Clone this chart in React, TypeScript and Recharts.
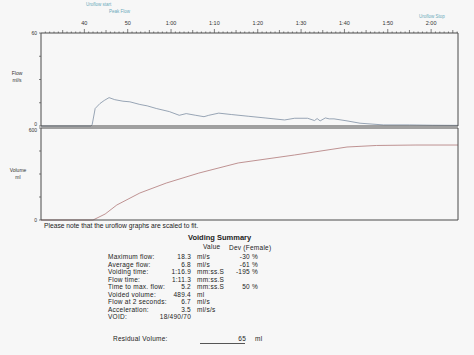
import React from 'react'
import { LineChart, Line, XAxis, YAxis } from 'recharts'

// flow curve (seconds, ml/s)
const flowTimes = [30, 41.5, 41.8, 42.5, 43.6, 44.6, 45.7, 47.0, 48.9, 50.5, 52.8, 54.5, 56.6, 59.6, 61.9, 63.5, 65.7, 67.6, 68.7, 71.0, 73.9, 77.8, 81.7, 86.2, 88.5, 91.5, 93.1, 93.7, 94.4, 95.6, 96.5, 97.6, 100.6, 103.6, 109, 115, 120.4, 126.2]
const flowRates = [0, 0, 0.8, 11.3, 14.5, 16.5, 18.3, 17.0, 16.0, 15.6, 13.9, 13.0, 11.3, 9.3, 6.9, 8.0, 6.9, 6.0, 6.9, 8.3, 7.4, 6.3, 5.2, 3.9, 5.0, 5.0, 3.5, 4.8, 3.3, 5.2, 4.6, 4.6, 3.3, 1.8, 0.7, 0.7, 0.5, 0.4]

// voided volume curve (seconds, ml)
const volumeTimes = [30, 42, 44.8, 47.5, 52.8, 58.9, 66.4, 75.5, 88.5, 100.6, 107.4, 116.5, 126.2]
const volumeValues = [0, 0, 39, 98, 176, 241, 306, 372, 424, 476, 486, 489, 489]

const timeTicks = [40, 50, 60, 70, 80, 90, 100, 110, 120]
const timeTickLabels = ['40', '50', '1:00', '1:10', '1:20', '1:30', '1:40', '1:50', '2:00']
const flowTicks = [0, 15, 30, 45, 60]
const volumeTicks = [0, 150, 300, 450, 600]

const summaryLabels = ['Maximum flow:', 'Average flow:', 'Voiding time:', 'Flow time:', 'Time to max. flow:', 'Voided volume:', 'Flow at 2 seconds:', 'Acceleration:', 'VOID:']
const summaryValues = ['18.3', '6.8', '1:16.9', '1:11.3', '5.2', '489.4', '6.7', '3.5', '18/490/70']
const summaryUnits = ['ml/s', 'ml/s', 'mm:ss.S', 'mm:ss.S', 'mm:ss.S', 'ml', 'ml/s', 'ml/s/s', '']
const summaryDevs = ['-30 %', '-61 %', '-195 %', '', '50 %', '', '', '', '']

const flowData = flowTimes.map((t, i) => ({ t, v: flowRates[i] }))
const volumeData = volumeTimes.map((t, i) => ({ t, v: volumeValues[i] }))

const DOMAIN: [number, number] = [30, 126.2]
const minorTicks: number[] = []
for (let s = 31; s <= 126; s++) minorTicks.push(s)

const FONT = '"Liberation Sans", Arial, sans-serif'
const AXIS = '#4a4a4a'

const TimeTick = (props: any) => {
  const { x, y, payload } = props
  const idx = timeTicks.indexOf(payload.value)
  const major = idx >= 0
  const len = major ? 4 : payload.value % 5 === 0 ? 3 : 1.5
  return (
    <g>
      <line x1={x} x2={x} y1={y} y2={y - len} stroke={AXIS} strokeWidth={0.7} />
      {major && (
        <text x={x} y={y - 8} textAnchor="middle" fontSize={5.5} fill="#333" fontFamily={FONT}>
          {timeTickLabels[idx]}
        </text>
      )}
    </g>
  )
}

const makeYTick = (top: number, bottom: number, topDy: number, bottomDy: number) => (props: any) => {
  const { x, y, payload } = props
  const v = payload.value
  const show = v === top || v === bottom
  const dy = v === top ? topDy : bottomDy
  return (
    <g>
      <line x1={x - 2} x2={x} y1={y} y2={y} stroke={AXIS} strokeWidth={0.7} />
      {show && (
        <text x={x - 4} y={y + 2 + dy} textAnchor="end" fontSize={5} fill="#333" fontFamily={FONT}>
          {v}
        </text>
      )}
    </g>
  )
}

const small: React.CSSProperties = { position: 'absolute', fontSize: 5, color: '#333', lineHeight: '7px', textAlign: 'center' }
const note: React.CSSProperties = { position: 'absolute', fontSize: 4.5, color: '#6aaabb', whiteSpace: 'nowrap', lineHeight: '5px' }
const txt: React.CSSProperties = { position: 'absolute', fontSize: 6.5, letterSpacing: 0.25, color: '#222', whiteSpace: 'nowrap', lineHeight: '7px' }

export default function App() {
  const rowTop = 253
  const rowStep = 7.5
  return (
    <div style={{ position: 'absolute', left: 0, top: 0, width: 474, height: 355, background: '#f7f7f7', fontFamily: FONT, overflow: 'hidden' }}>
      <div style={{ ...note, left: 86, top: 2 }}>Uroflow start</div>
      <div style={{ ...note, left: 109, top: 9 }}>Peak Flow</div>
      <div style={{ ...note, left: 419, top: 14 }}>Uroflow Stop</div>

      <div style={{ ...small, left: 6, top: 70, width: 22 }}>Flow<br />ml/s</div>
      <div style={{ ...small, left: 6, top: 167, width: 24 }}>Volume<br />ml</div>

      <div style={{ position: 'absolute', left: 0, top: 0 }}>
        <LineChart width={474} height={130} data={flowData} margin={{ top: 32, right: 15, bottom: 3, left: 40 }}>
          <XAxis
            dataKey="t"
            type="number"
            orientation="top"
            domain={DOMAIN}
            allowDataOverflow
            ticks={minorTicks}
            interval={0}
            height={1}
            tickSize={0}
            tickMargin={0}
            tickLine={false}
            tick={<TimeTick />}
            axisLine={{ stroke: AXIS, strokeWidth: 1 }}
          />
          <XAxis xAxisId="b" dataKey="t" type="number" domain={DOMAIN} height={1} tick={false} tickLine={false} axisLine={{ stroke: AXIS, strokeWidth: 1.2 }} />
          <YAxis
            type="number"
            domain={[0, 60]}
            ticks={flowTicks}
            interval={0}
            width={1}
            tickSize={0}
            tickMargin={0}
            tickLine={false}
            tick={makeYTick(60, 0, 0, -2)}
            axisLine={{ stroke: AXIS, strokeWidth: 1 }}
          />
          <YAxis yAxisId="r" orientation="right" domain={[0, 1]} width={1} tick={false} tickLine={false} axisLine={{ stroke: AXIS, strokeWidth: 1 }} />
          <Line dataKey="v" stroke="#7f8fa3" strokeWidth={0.8} dot={false} isAnimationActive={false} />
        </LineChart>
      </div>

      <div style={{ position: 'absolute', left: 0, top: 120 }}>
        <LineChart width={474} height={110} data={volumeData} margin={{ top: 7, right: 15, bottom: 9, left: 40 }}>
          <XAxis dataKey="t" type="number" domain={DOMAIN} height={1} tick={false} tickLine={false} axisLine={{ stroke: AXIS, strokeWidth: 1 }} />
          <XAxis xAxisId="top" orientation="top" dataKey="t" type="number" domain={DOMAIN} height={1} tick={false} tickLine={false} axisLine={{ stroke: AXIS, strokeWidth: 1 }} />
          <YAxis
            type="number"
            domain={[0, 600]}
            ticks={volumeTicks}
            interval={0}
            width={1}
            tickSize={0}
            tickMargin={0}
            tickLine={false}
            tick={makeYTick(600, 0, 2, 0)}
            axisLine={{ stroke: AXIS, strokeWidth: 1 }}
          />
          <YAxis yAxisId="r" orientation="right" domain={[0, 1]} width={1} tick={false} tickLine={false} axisLine={{ stroke: AXIS, strokeWidth: 1 }} />
          <Line dataKey="v" stroke="#b07878" strokeWidth={0.8} dot={false} isAnimationActive={false} />
        </LineChart>
      </div>

      <div style={{ position: 'absolute', left: 44, top: 222, fontSize: 6.7, color: '#222', whiteSpace: 'nowrap', lineHeight: '7px' }}>
        Please note that the uroflow graphs are scaled to fit.
      </div>

      <div style={{ position: 'absolute', left: 188, top: 234, fontSize: 7.5, fontWeight: 'bold', color: '#222', whiteSpace: 'nowrap', lineHeight: '8px' }}>Voiding Summary</div>
      <div style={{ ...txt, left: 203, top: 243 }}>Value</div>
      <div style={{ ...txt, left: 229, top: 244 }}>Dev (Female)</div>

      {summaryLabels.map((label, i) => (
        <React.Fragment key={label}>
          <div style={{ ...txt, left: 108, top: rowTop + i * rowStep }}>{label}</div>
          <div style={{ ...txt, right: 474 - 191, top: rowTop + i * rowStep }}>{summaryValues[i]}</div>
          <div style={{ ...txt, left: 197, top: rowTop + i * rowStep }}>{summaryUnits[i]}</div>
          <div style={{ ...txt, right: 474 - 258, top: rowTop + i * rowStep }}>{summaryDevs[i]}</div>
        </React.Fragment>
      ))}

      <div style={{ ...txt, left: 113, top: 335 }}>Residual Volume:</div>
      <div style={{ position: 'absolute', left: 200, top: 343, width: 45, borderTop: '0.7px solid #555' }} />
      <div style={{ ...txt, right: 474 - 246, top: 335 }}>65</div>
      <div style={{ ...txt, left: 255, top: 335 }}>ml</div>
    </div>
  )
}
